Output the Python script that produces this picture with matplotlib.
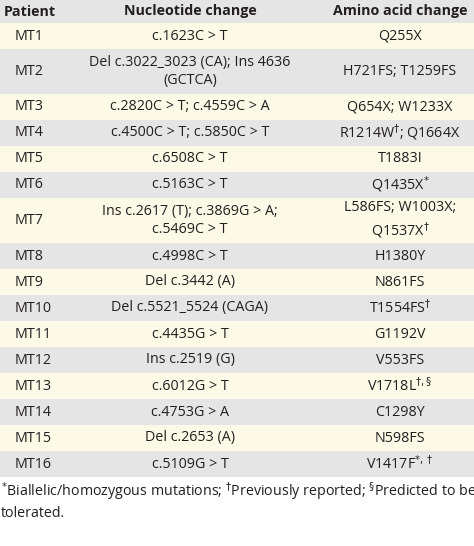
import matplotlib.pyplot as plt
from matplotlib.patches import Rectangle

plt.rcParams['font.family'] = ['Open Sans', 'DejaVu Sans']

headers = ['Patient', 'Nucleotide change', 'Amino acid change']
patients = ['MT%d' % i for i in range(1, 17)]
nucleotide = [
    'c.1623C > T',
    'Del c.3022_3023 (CA); Ins 4636\n(GCTCA)',
    'c.2820C > T; c.4559C > A',
    'c.4500C > T; c.5850C > T',
    'c.6508C > T',
    'c.5163C > T',
    'Ins c.2617 (T); c.3869G > A;\nc.5469C > T',
    'c.4998C > T',
    'Del c.3442 (A)',
    'Del c.5521_5524 (CAGA)',
    'c.4435G > T',
    'Ins c.2519 (G)',
    'c.6012G > T',
    'c.4753G > A',
    'Del c.2653 (A)',
    'c.5109G > T',
]
amino = [
    'Q255X',
    'H721FS; T1259FS',
    'Q654X; W1233X',
    r'R1214W$^{\dagger}$; Q1664X',
    'T1883I',
    r'Q1435X$^{*}$',
    'L586FS; W1003X;\n' + r'Q1537X$^{\dagger}$',
    'H1380Y',
    'N861FS',
    r'T1554FS$^{\dagger}$',
    'G1192V',
    'V553FS',
    r'V1718L$^{\dagger,\S}$',
    'C1298Y',
    'N598FS',
    r'V1417F$^{*,\dagger}$',
]
footnote = (r'$^{*}$Biallelic/homozygous mutations; $^{\dagger}$Previously reported; $^{\S}$Predicted to be'
            '\ntolerated.')

W, H = 474, 546
grey = '#e5e5e6'
yellow = '#fcf9e6'
ink = '#231f20'
fs = 10.3

fig = plt.figure(figsize=(W / 100, H / 100), dpi=100)
ax = fig.add_axes([0, 0, 1, 1])
ax.set_xlim(0, W)
ax.set_ylim(H, 0)
ax.axis('off')

x_pat, x_nuc, x_amino = 15, 190, 400
heights = {1: 26, 2: 45, 3: 67}

# header
y = 0
ax.add_patch(Rectangle((0, y), W, 23, color=grey, lw=0))
ax.text(x_pat - 11, y + 11.5, headers[0], ha='left', va='center', fontsize=fs, weight='bold', color=ink)
ax.text(x_nuc, y + 11.5, headers[1], ha='center', va='center', fontsize=fs, weight='bold', color=ink)
ax.text(x_amino, y + 11.5, headers[2], ha='center', va='center', fontsize=fs, weight='bold', color=ink)
y += 23

for i, (p, n, a) in enumerate(zip(patients, nucleotide, amino)):
    lines = max(n.count('\n'), a.count('\n')) + 1
    h = heights[lines]
    ax.add_patch(Rectangle((0, y), W, h, color=yellow if i % 2 == 0 else grey, lw=0))
    cy = y + h / 2
    ax.text(x_pat, cy, p, ha='left', va='center', fontsize=fs, color=ink)
    ax.text(x_nuc, cy, n, ha='center', va='center', fontsize=fs, color=ink, linespacing=1.35)
    ax.text(x_amino, cy, a, ha='center', va='center', fontsize=fs, color=ink, linespacing=1.35)
    y += h

ax.text(1, y + 3, footnote, ha='left', va='top', fontsize=fs, color=ink, linespacing=1.3)

fig.savefig('out.png', dpi=100)
